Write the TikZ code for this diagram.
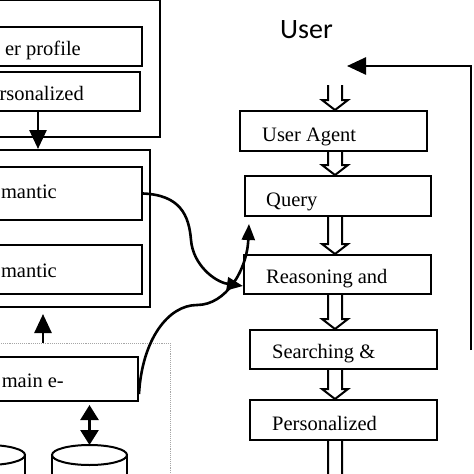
\documentclass[tikz,border=0pt]{standalone}
\usepackage{fontspec}
\setmainfont{Liberation Serif}
\newfontfamily\userfont{Carlito}
\usetikzlibrary{calc,arrows.meta}

\tikzset{
    box/.style={draw, line width=2pt, inner sep=0pt},
    group/.style={draw, line width=2pt, inner sep=0pt},
    dotgroup/.style={draw=gray!70, densely dotted, line width=0.9pt, inner sep=0pt},
    lbl/.style={inner sep=0pt, font=\fontsize{20.5}{24}\selectfont},
    dbline/.style={line width=2pt},
    conn/.style={line width=2.6pt, -{Triangle[length=19pt,width=17pt]}},
    curvy/.style={line width=2.6pt, -{Triangle[length=16pt,width=13pt]}},
    hollow/.style={draw, line width=2pt, fill=white, line join=miter}
}

% block arrow (hollow) from #1 down to #2
\newcommand{\hollowdown}[2]{%
    \draw[hollow] ($(#1)+(-7,0)$) -- ($(#2)+(-7,-10)$) -- ($(#2)+(-13,-10)$) -- (#2)
        -- ($(#2)+(13,-10)$) -- ($(#2)+(7,-10)$) -- ($(#1)+(7,0)$);}
% data store: top ellipse centre #1, half width #2
\newcommand{\store}[2]{%
    \draw[dbline] (#1) ellipse [x radius=#2, y radius=10];
    \draw[dbline] ($(#1)+(-#2,0)$) -- ++(0,40);
    \draw[dbline] ($(#1)+(#2,0)$) -- ++(0,40);}

\begin{document}
\begin{tikzpicture}[x=1pt, y=-1pt]

    \useasboundingbox (0,0) rectangle (474,474);
    \clip (0,0) rectangle (474,474);

    % 1. left side: profile group
    \node[group, minimum width=230, minimum height=137] (profgrp) at (45,68.5) {};
    \node[box, minimum width=212, minimum height=39] (uprof) at (36,46.5) {};
    \node[box, minimum width=204, minimum height=39] (perso) at (38,91.5) {};
    \node[lbl, anchor=base east] (uproftxt) at (81,55) {er profile};
    \node[lbl, anchor=base east] (persotxt) at (84,100) {rsonalized};

    % 2. semantic group
    \node[group, minimum width=220, minimum height=157] (semgrp) at (40,228.5) {};
    \node[box, minimum width=212, minimum height=53] (sem1) at (36,193.5) {};
    \node[box, minimum width=212, minimum height=49] (sem2) at (36,269.5) {};
    \node[lbl, anchor=base east] (sem1txt) at (57,198) {mantic};
    \node[lbl, anchor=base east] (sem2txt) at (57,277) {mantic};

    % 3. domain group with stores
    \node[dotgroup, minimum width=240, minimum height=177] (domgrp) at (50,431.5) {};
    \node[box, minimum width=190, minimum height=44] (dom) at (43,379) {};
    \node[lbl, anchor=base east] (domtxt) at (64,387) {main e-};
    \coordinate (db1) at (-12.5,455);
    \coordinate (db2) at (89.5,455);
    \coordinate (db2top) at (89.5,445);
    \store{db1}{37.5}
    \store{db2}{37.5}

    \draw[conn] (perso.south) -- (semgrp.north -| perso.south);
    \draw[conn, shorten >=6pt] (domgrp.north -| dom.north) -- (semgrp.south -| dom.north);
    \draw[conn, {Triangle[length=15pt,width=18pt]}-{Triangle[length=15pt,width=18pt]}]
        ([yshift=-3pt]dom.south -| db2top) -- (db2top);

    % 4. right column
    \coordinate (col) at (335,0);
    \node[font=\userfont\fontsize{28}{32}\selectfont, anchor=base west, inner sep=0pt]
        (user) at (280,38) {User};
    \node[box, minimum width=187, minimum height=40] (agent) at (333.5,131) {};
    \node[box, minimum width=186, minimum height=40] (query) at (338,196) {};
    \node[box, minimum width=187, minimum height=39] (reason) at (337.5,274.5) {};
    \node[box, minimum width=187, minimum height=39] (search) at (343.5,349.5) {};
    \node[box, minimum width=187, minimum height=40] (pers) at (343.5,420) {};
    \node[lbl, anchor=base west] (agenttxt) at (262,141) {User Agent};
    \node[lbl, anchor=base west] (querytxt) at (266,206) {Query};
    \node[lbl, anchor=base west] (reasontxt) at (266,283) {Reasoning and};
    \node[lbl, anchor=base west] (searchtxt) at (272,358) {Searching \&};
    \node[lbl, anchor=base west] (perstxt) at (272,430) {Personalized};

    \coordinate (intop) at (335,85);
    \coordinate (outbot) at (335,492);
    \hollowdown{intop}{agent.north -| col}
    \hollowdown{agent.south -| col}{query.north -| col}
    \hollowdown{query.south -| col}{reason.north -| col}
    \hollowdown{reason.south -| col}{search.north -| col}
    \hollowdown{search.south -| col}{pers.north -| col}
    \hollowdown{pers.south -| col}{outbot}

    % feedback line back up to the user
    \coordinate (fbstart) at (471,350);
    \coordinate (fbend) at (347,66);
    \draw[conn] (fbstart) |- (fbend);

    % 5. curved links between the two sides
    \draw[curvy] (sem1.east) .. controls (180,195) and (189,215) .. (191,240)
        .. controls (193,265) and (215,282) .. ([yshift=9pt]reason.south west);
    \draw[curvy] ([yshift=8pt]dom.south east) .. controls (142,340) and (168,305) .. (197,305)
        .. controls (226,305) and (247,270) .. ([shift={(5pt,-7pt)}]query.south west);

\end{tikzpicture}
\end{document}
